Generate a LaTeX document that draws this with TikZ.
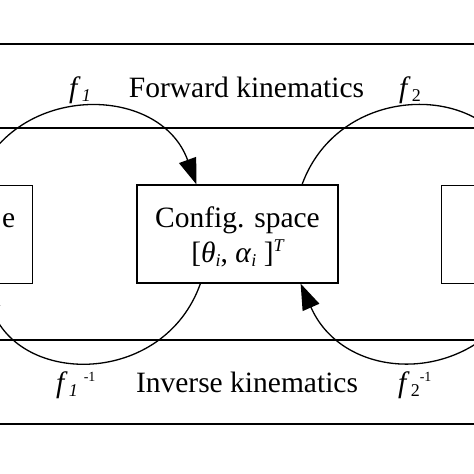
\documentclass[tikz,border=0pt]{standalone}
\usepackage{fontspec}
\setmainfont{Liberation Serif}
\usetikzlibrary{arrows.meta,calc}
\newcommand\fsub[1]{\textit{f}\kern1pt\raisebox{-4pt}{\fontsize{18}{18}\selectfont #1}}
\newcommand\supm[1]{\raisebox{11pt}{\fontsize{14}{14}\selectfont #1}}
\newcommand\lsub[1]{\raisebox{-4pt}{\fontsize{18}{18}\selectfont\itshape #1}}
\begin{document}
\begin{tikzpicture}[x=1pt,y=-1pt,
  box/.style={draw, line width=1.2pt, inner sep=0pt, minimum height=98pt},
  band/.style={line width=1.9pt},
  conn/.style={line width=1.3pt},
  tip/.style={-{Triangle[length=26pt,width=18pt]}},
  lbl/.style={inner sep=0pt, font=\fontsize{29.5}{34}\selectfont}]
\useasboundingbox (0,0) rectangle (474,474);
\fill[white] (0,0) rectangle (474,474);
\clip (0,0) rectangle (474,474);
% horizontal bands
\coordinate (t1) at (-10,44);  \coordinate (t2) at (484,44);
\coordinate (u1) at (-10,128.2); \coordinate (u2) at (484,128.2);
\coordinate (d1) at (-10,340); \coordinate (d2) at (484,340);
\coordinate (b1) at (-10,424); \coordinate (b2) at (484,424);
\draw[band] (t1) -- (t2);
\draw[band] (u1) -- (u2);
\draw[band] (d1) -- (d2);
\draw[band] (b1) -- (b2);
% boxes
\node[box, minimum width=200pt, anchor=north east] (lb) at (33,185) {};
\node[lbl, anchor=base east] (lbt) at (15.5,227) {e};
\node[box, minimum width=201pt] (mb) at (237.5,234) {};
\node[lbl, anchor=base] (mbt1) at (237.5,227) {Config. space};
\node[lbl, anchor=base] (mbt2) at (237.5,262) {[\textit{θ}\lsub{i}, \textit{α}\lsub{i} ]\supm{\fontsize{18}{18}\selectfont\itshape T}};
\node[box, minimum width=200pt, anchor=north west] (rb) at (441,185) {};
% connectors
\draw[conn, tip] ($(lb.north east)+(-58,0)$) .. controls +(35.3,-102.5) and +(-37,-102.5) .. ($(mb.north west)+(60,0)$);
\draw[conn, tip] ($(mb.south west)+(64,0)$) .. controls +(-36.4,102.7) and +(36.4,102.7) .. ($(lb.south east)+(-50,0)$);
\draw[conn, tip] ($(mb.north east)+(-36.5,0)$) .. controls +(37.6,-102.7) and +(-37.6,-102.7) .. ($(rb.north west)+(81,0)$);
\draw[conn, tip] ($(rb.south west)+(85,0)$) .. controls +(-45,102.7) and +(45,102.7) .. ($(mb.south east)+(-38,0)$);
% labels
\node[lbl, anchor=base] (f1) at (80,97) {\fsub{\textit{1}}};
\node[lbl, anchor=base] (fwd) at (246.5,97) {Forward kinematics};
\node[lbl, anchor=base] (f2) at (410,97) {\fsub{2}};
\node[lbl, anchor=base] (inv) at (247,392) {Inverse kinematics};
\node[lbl, anchor=base west] (f1i) at (56,392) {\fsub{\textit{1}}\kern6pt\supm{-1}};
\node[lbl, anchor=base west] (f2i) at (398,392) {\fsub{2}\supm{-1}};
\end{tikzpicture}
\end{document}
